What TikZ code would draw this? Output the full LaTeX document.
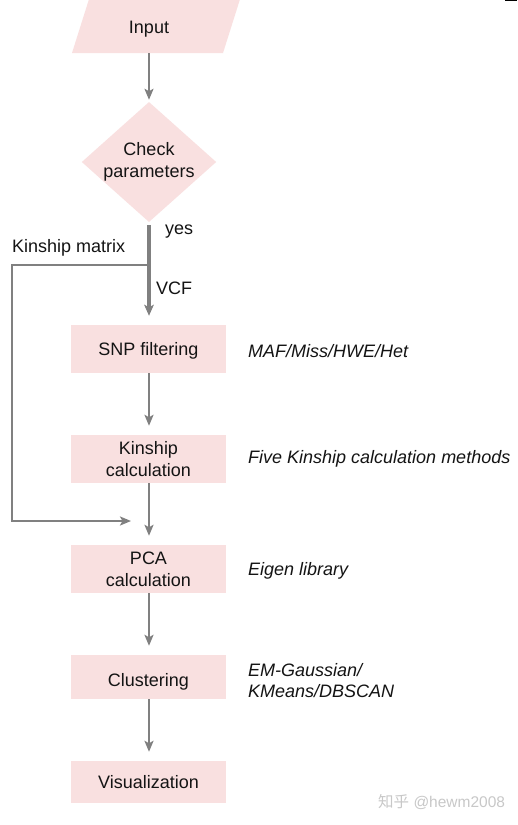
\documentclass[tikz,border=0pt]{standalone}
\usepackage{fontspec}
\setmainfont{Liberation Sans}
\newfontfamily\cjk{Noto Sans CJK SC}
\usetikzlibrary{shapes.geometric,arrows.meta}
\definecolor{boxpink}{HTML}{F9E0E0}
\definecolor{linegray}{HTML}{808080}
\definecolor{txt}{HTML}{141414}
\definecolor{wm}{HTML}{C8C8C8}
\tikzset{
  stepbox/.style={fill=boxpink, draw=none, minimum width=155pt, inner sep=0pt, align=center, font=\fontsize{18}{22}\selectfont, text=txt},
  decbox/.style={shape=diamond, fill=boxpink, draw=none, inner sep=0pt, aspect=1.12, minimum width=134pt, minimum height=120pt, align=center, font=\fontsize{18}{22}\selectfont, text=txt},
  plain/.style={inner sep=0pt, anchor=west, font=\fontsize{18}{22}\selectfont, text=txt},
  note/.style={inner sep=0pt, anchor=west, align=left, font=\fontsize{18}{21}\selectfont\itshape, text=txt},
  flow/.style={draw=linegray, line width=2.2pt, -{Stealth[length=11pt,width=9pt,inset=2.5pt]}},
  thickflow/.style={draw=linegray, line width=3.8pt, -{Stealth[length=11pt,width=9.5pt,inset=2.5pt]}},
}
\newcommand{\lowtxt}[2]{\raisebox{-#1}[0pt][0pt]{#2}}
\begin{document}
\begin{tikzpicture}[x=1pt,y=-1pt]
\useasboundingbox (0,0) rectangle (517,825);
\fill[white] (0,0) rectangle (517,825);
% input parallelogram
\fill[boxpink] (72,53) -- (223,53) -- (241,-4) -- (90,-4) -- cycle;
\node[inner sep=0pt, minimum height=53pt, minimum width=10pt, font=\fontsize{18}{22}\selectfont, text=txt] (input) at (149,26.5) {\lowtxt{7pt}{Input}};
% decision
\node[decbox] (check) at (149,162) {Check\\parameters};
% steps
\node[stepbox, minimum height=48pt] (snp) at (148.5,349) {\lowtxt{6.5pt}{SNP filtering}};
\node[stepbox, minimum height=48pt] (kin) at (148.5,459) {Kinship\\calculation};
\node[stepbox, minimum height=48pt] (pca) at (148.5,569) {PCA\\calculation};
\node[stepbox, minimum height=44pt] (clu) at (148.5,677) {\lowtxt{9pt}{Clustering}};
\node[stepbox, minimum height=42pt] (vis) at (148.5,782) {\lowtxt{6.5pt}{Visualization}};
% connectors
\draw[flow, shorten >=2pt] (input.south) -- (check.north);
\coordinate (split) at (149,265);
\coordinate (kend) at (131,521);
\draw[thickflow, shorten <=3pt, shorten >=9pt] (check.south) -- (snp.north -| check.south);
\draw[draw=linegray, line width=2.2pt, -{Stealth[length=11pt,width=9pt,inset=2.5pt]}] (split) -- (12,265) -- (12,521) -- (kend);
\draw[flow, shorten >=9pt] (snp.south -| check.south) -- (kin.north -| check.south);
\draw[flow, shorten >=9pt] (kin.south -| check.south) -- (pca.north -| check.south);
\draw[flow, shorten >=9pt] (pca.south -| check.south) -- (clu.north -| check.south);
\draw[flow, shorten >=9pt] (clu.south -| check.south) -- (vis.north -| check.south);
% labels
\node[plain] (yes) at (165,232) {yes};
\node[plain] (kmat) at (12,248) {Kinship matrix};
\node[plain] (vcf) at (156,288) {VCF};
\node[note] (n1) at (248,351) {MAF/Miss/HWE/Het};
\node[note] (n2) at (248,459) {Five Kinship calculation methods};
\node[note] (n3) at (248,571) {Eigen library};
\node[note] (n4) at (248,680.5) {EM-Gaussian/\\KMeans/DBSCAN};
% watermark
\node[inner sep=0pt, anchor=west, text=wm, font=\fontsize{15.5}{18}\selectfont] (wmk) at (378,802) {{\cjk 知乎} @hewm2008};
% corner mark
\fill[black] (505,0) rectangle (517,1.2);
\end{tikzpicture}
\end{document}
